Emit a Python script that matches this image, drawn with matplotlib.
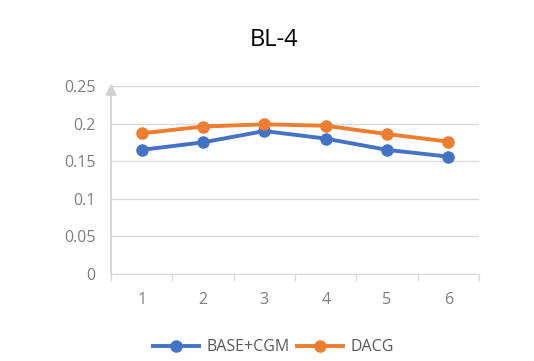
import matplotlib.pyplot as plt
import numpy as np

plt.rcParams['font.family'] = ['Open Sans', 'DejaVu Sans']

categories = ['1', '2', '3', '4', '5', '6']
base_cgm = [0.165, 0.175, 0.19, 0.18, 0.165, 0.156]
dacg = [0.187, 0.196, 0.199, 0.197, 0.186, 0.176]
yticks = [0, 0.05, 0.1, 0.15, 0.2, 0.25]
ytick_labels = ['0', '0.05', '0.1', '0.15', '0.2', '0.25']

blue = '#4472C4'
orange = '#ED7D31'
grey = '#7f7f7f'

fig = plt.figure(figsize=(5.34, 3.61), dpi=100)
ax = fig.add_axes([0.208, 0.241, 0.689, 0.521])

x = np.arange(len(categories))
ax.plot(x, base_cgm, color=blue, lw=2.8, marker='o', ms=8, label='BASE+CGM')
ax.plot(x, dacg, color=orange, lw=2.8, marker='o', ms=8, label='DACG')

ax.set_xlim(-0.5, len(categories) - 0.5)
ax.set_ylim(0, 0.25)
ax.set_yticks(yticks)
ax.set_yticklabels(ytick_labels)
ax.set_xticks(x)
ax.set_xticklabels(categories)
ax.set_xticks(np.arange(-0.5, len(categories), 1), minor=True)

ax.grid(axis='y', color='#d9d9d9', lw=1)
ax.set_axisbelow(True)
for s in ['top', 'right', 'left']:
    ax.spines[s].set_visible(False)
ax.spines['bottom'].set_color('#d9d9d9')

ax.tick_params(axis='y', length=0, labelsize=11.5, labelcolor=grey, pad=11)
ax.tick_params(axis='x', which='major', length=0, labelsize=11.5, labelcolor=grey, pad=13)
ax.tick_params(axis='x', which='minor', length=5, color='#d9d9d9', width=1)

# y axis line with arrow head
ax.annotate('', xy=(-0.5, 0.253), xytext=(-0.5, 0), xycoords='data',
            arrowprops=dict(arrowstyle='-|>', color='#d0d0d0', lw=1.2,
                            mutation_scale=17, shrinkA=0, shrinkB=0),
            annotation_clip=False)

fig.text(0.513, 0.89, 'BL-4', ha='center', va='center', fontsize=17)

fig.legend(loc='center', bbox_to_anchor=(0.512, 0.038), ncol=2, frameon=False,
           fontsize=11.5, labelcolor='#595959', handlelength=2.9,
           handletextpad=0.5, columnspacing=0.4)

fig.savefig('out.png', dpi=100)
